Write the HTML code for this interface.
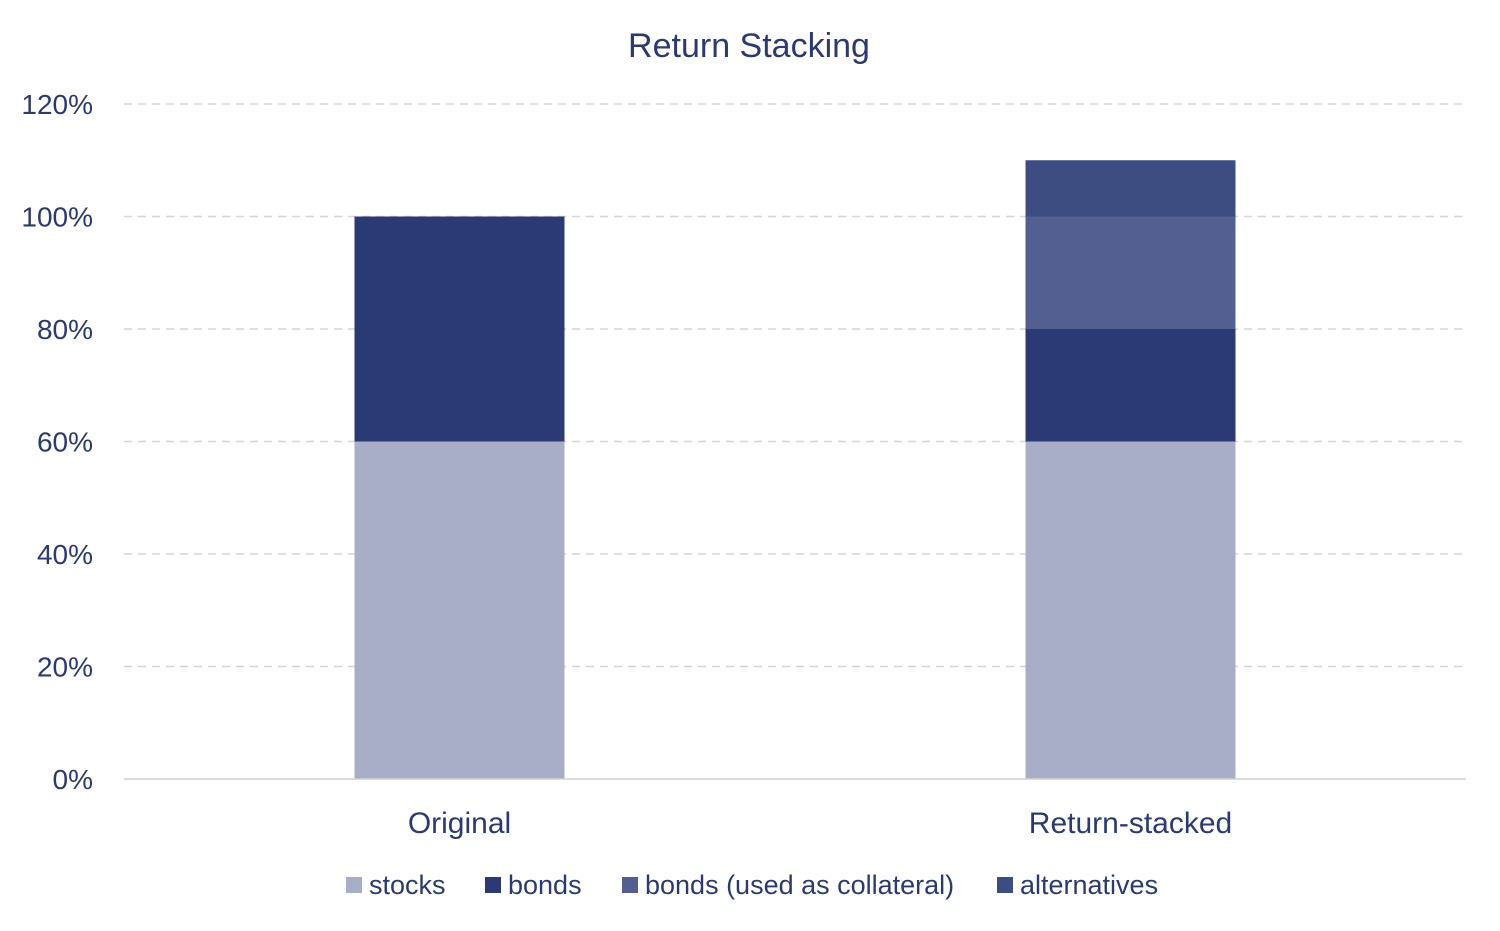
<!DOCTYPE html>
<html><head><meta charset="utf-8"><style>
html,body{margin:0;padding:0;background:#fff;}
svg{display:block;font-family:"Liberation Sans",sans-serif;}
</style></head><body>
<svg id="chart" width="1500" height="931">
<text x="749" y="57" text-anchor="middle" font-size="34" fill="#2b3a75">Return Stacking</text>
<g id="grid"></g><g id="bars"></g><g id="axes"></g><g id="legend"></g>
</svg>
<script>
const categories = ["Original", "Return-stacked"];
const seriesNames = ["stocks", "bonds", "bonds (used as collateral)", "alternatives"];
const stocks = [60, 60];
const bonds = [40, 20];
const collateral = [0, 20];
const alternatives = [0, 10];
const yTicks = [0, 20, 40, 60, 80, 100, 120];
const colors = ["#a8aec8", "#2b3a75", "#545f91", "#3d4d82"];
const series = [stocks, bonds, collateral, alternatives];

const NS = "http://www.w3.org/2000/svg";
const x0 = 124, x1 = 1466, yBase = 779, yTop = 104, yMax = 120;
const y = v => yBase - (v / yMax) * (yBase - yTop);
const band = (x1 - x0) / categories.length;
const xc = i => x0 + band * (i + 0.5);
const bw = 210;
function mk(tag, attrs, parent) { const e = document.createElementNS(NS, tag); for (const k in attrs) e.setAttribute(k, attrs[k]); parent.appendChild(e); return e; }
const grid = document.getElementById("grid"), bars = document.getElementById("bars"), axes = document.getElementById("axes"), legend = document.getElementById("legend");

yTicks.forEach(t => {
  if (t > 0) {
    const l = mk("line", {x1: x0, x2: x1, y1: y(t), y2: y(t), stroke: "#d6d6d6", "stroke-width": 1.5, "stroke-dasharray": "8,6"}, grid);
    
    
  }
  const tx = mk("text", {x: 93, y: y(t) + 10, "text-anchor": "end", "font-size": 28, fill: "#2b3a75"}, axes);
  tx.textContent = t + "%";
  
  
});
const ax = mk("line", {x1: x0, x2: x1, y1: yBase, y2: yBase, stroke: "#d0d0d0", "stroke-width": 1.5}, axes);



categories.forEach((c, i) => {
  let cum = 0;
  series.forEach((s, k) => {
    const v = s[i];
    if (v > 0) {
      const r = mk("rect", {x: xc(i) - bw / 2, y: y(cum + v), width: bw, height: y(cum) - y(cum + v), fill: colors[k]}, bars);
      
      
    }
    cum += v;
  });
  const t = mk("text", {x: xc(i), y: 833, "text-anchor": "middle", "font-size": 30, fill: "#2b3a75"}, axes);
  t.textContent = c;
  
  
});

const legX = [346, 485, 622, 997];
seriesNames.forEach((n, k) => {
  const g = mk("g", {}, legend);
  
  
  mk("rect", {x: legX[k], y: 877, width: 16, height: 16, fill: colors[k]}, g);
  const t = mk("text", {x: legX[k] + 23, y: 894, "font-size": 27, fill: "#2b3a75"}, g);
  t.textContent = n;
});
</script>
</body></html>
